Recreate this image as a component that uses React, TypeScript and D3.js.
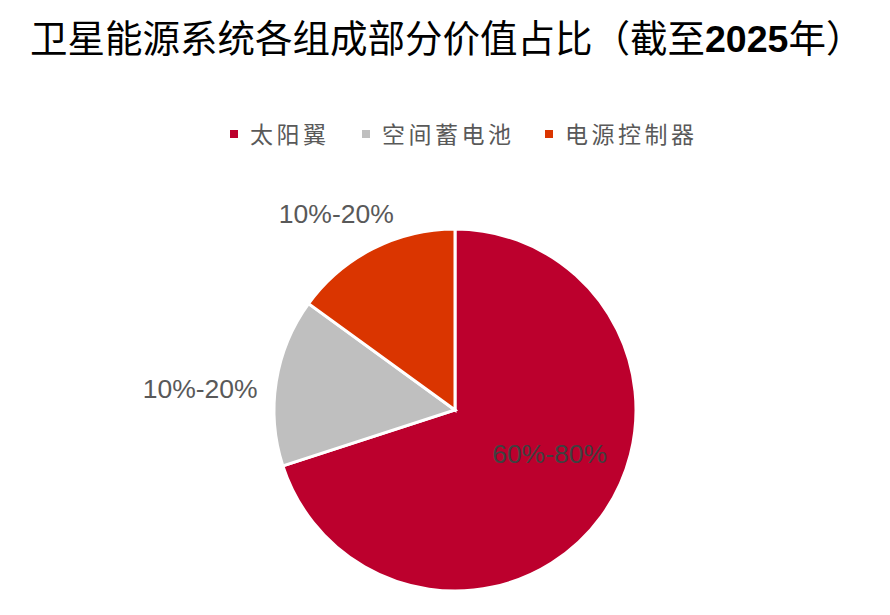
import React from "react";
import * as d3 from "d3";

const categories = ["太阳翼", "空间蓄电池", "电源控制器"];
const values = [70, 15, 15];
const valueLabels = ["60%-80%", "10%-20%", "10%-20%"];
const colors = ["#BC002D", "#BFBFBF", "#DA3500"];

const W = 890;
const H = 615;
const cx = 455;
const cy = 410;
const R = 181;

export default function App() {
  const pie = d3.pie<number>().sort(null).value((d) => d)(values);
  const arc = d3.arc<d3.PieArcDatum<number>>().innerRadius(0).outerRadius(R);

  // label placement: inside for big slice, outside for small slices
  const labelPos = (d: d3.PieArcDatum<number>, i: number) => {
    const mid = (d.startAngle + d.endAngle) / 2;
    if (i === 0) {
      const r = R * 0.58;
      return { x: cx + r * Math.sin(mid - 0.18), y: cy - r * Math.cos(mid - 0.18) - 2, anchor: "middle" };
    }
    const r = R + 32;
    const x = cx + r * Math.sin(mid);
    const y = cy - r * Math.cos(mid);
    if (i === 1) return { x: x + 13, y: y + 12, anchor: "end" };
    return { x: x - 22, y: y - 6, anchor: "middle" };
  };

  const legendX = [230, 362, 545];

  return (
    <svg width={W} height={H} style={{ display: "block", position: "absolute", left: 0, top: 0 }}>
      <rect width={W} height={H} fill="#fff" />
      <text
        x={30}
        y={52}
        fontSize={37.5}
        fill="#000"
        fontFamily="'Liberation Sans', 'Noto Sans CJK SC', sans-serif"
      >
        卫星能源系统各组成部分价值占比（截至<tspan fontWeight="bold">2025</tspan>年）
      </text>
      <g>
        {categories.map((c, i) => (
          <g key={c}>
            <rect x={legendX[i]} y={130} width={8} height={8} fill={colors[i]} />
            <text
              x={legendX[i] + 20}
              y={143}
              fontSize={23}
              letterSpacing={3.5}
              fill="#595959"
              fontFamily="'Noto Sans CJK SC', sans-serif"
            >
              {c}
            </text>
          </g>
        ))}
      </g>
      <g transform={`translate(${cx},${cy})`}>
        {pie.map((d, i) => (
          <path key={i} d={arc(d) || ""} fill={colors[i]} stroke="#fff" strokeWidth={3} strokeLinejoin="miter" />
        ))}
      </g>
      {pie.map((d, i) => {
        const p = labelPos(d, i);
        return (
          <text
            key={"l" + i}
            x={p.x}
            y={p.y}
            textAnchor={p.anchor as any}
            dominantBaseline="central"
            fontSize={26.5}
            fill={i === 0 ? "#404040" : "#595959"}
            fontFamily="'Liberation Sans', Arial, sans-serif"
          >
            {valueLabels[i]}
          </text>
        );
      })}
    </svg>
  );
}
